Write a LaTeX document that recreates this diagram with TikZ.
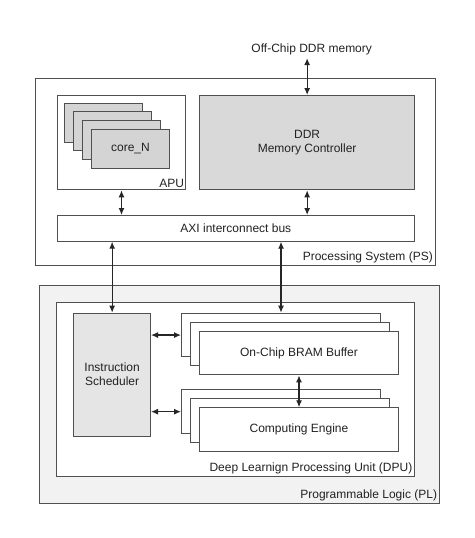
\documentclass[tikz,border=0pt]{standalone}
\usepackage{fontspec}
\setmainfont{Liberation Sans}
\usepackage{tikz}
\usepackage{xcolor}
\usetikzlibrary{arrows.meta}

\definecolor{edge}{HTML}{505050}
\definecolor{ink}{HTML}{222222}

\begin{document}
\begin{tikzpicture}[x=1pt, y=-1pt,
      every node/.style = {font=\fontsize{12}{14}\selectfont, text=ink},
      box/.style = {draw=edge, line width=1pt, rectangle, inner sep=0pt, anchor=north west},
      tag/.style = {inner sep=3pt, anchor=south east},
      link/.style = {{Latex[length=7pt,width=6pt]}-{Latex[length=7pt,width=6pt]}, line width=1.2pt, draw=black!85}]
      \useasboundingbox (0,0) rectangle (474,538);
      % processing system
      \node[box, minimum width=400pt, minimum height=187pt] (ps) at (35,78) {};
      \node[tag] (pslabel) at (ps.south east) {Processing System (PS)};
      \node[box, minimum width=128.6pt, minimum height=94.3pt] (apu) at (56.7,95) {};
      \node[tag, inner sep=2pt] (apulabel) at (apu.south east) {APU};
      \foreach \i in {0,1,2}
            \node[box, fill=black!17, minimum width=77.4pt, minimum height=39pt] (core\i) at (64.3+9*\i,102.7+8.7*\i) {};
      \node[box, fill=black!17, minimum width=77.4pt, minimum height=39pt] (coreN) at (91.3,128.8) {core\_N};
      \node[box, fill=black!15, minimum width=214.7pt, minimum height=94.3pt, align=center] (ddr) at (199.3,95) {DDR\\Memory Controller};
      \node (offchip) at (311.7,49) {Off-Chip DDR memory};
      \node[box, fill=white, minimum width=357.3pt, minimum height=25.7pt] (axi) at (56.7,215) {AXI interconnect bus};
      % programmable logic
      \node[box, fill=black!5, minimum width=400pt, minimum height=217.7pt] (pl) at (39.3,285) {};
      \node[tag] (pllabel) at (pl.south east) {Programmable Logic (PL)};
      \node[box, fill=white, minimum width=358pt, minimum height=173.7pt] (dpu) at (56,302.3) {};
      \node[tag, inner sep=2.5pt] (dpulabel) at (dpu.south east) {Deep Learnign Processing Unit (DPU)};
      \node[box, fill=black!10, minimum width=76.7pt, minimum height=123pt, align=center] (sched) at (73.3,312.7) {Instruction\\Scheduler};
      \foreach \i in {0,1}
            \node[box, fill=white, minimum width=199pt, minimum height=43.7pt] (bram\i) at (181+9*\i,312.7+9*\i) {};
      \node[box, fill=white, minimum width=199pt, minimum height=43.7pt] (bram2) at (199,330.7) {On-Chip BRAM Buffer};
      \foreach \i in {0,1}
            \node[box, fill=white, minimum width=199pt, minimum height=43.7pt] (ce\i) at (181+9*\i,389.3+9*\i) {};
      \node[box, fill=white, minimum width=199pt, minimum height=43.7pt] (ce2) at (199,407.3) {Computing Engine};
      % connectors
      \draw[link] (ddr.north) -- (ddr.north |- offchip.south);
      \draw[link] (apu.south) -- (axi.north -| apu.south);
      \draw[link] (ddr.south) -- (axi.north -| ddr.south);
      \draw[link] (axi.south -| sched.north) -- (sched.north);
      \draw[link] (axi.south -| bram0.north) -- (bram0.north);
      \draw[link] (sched.east |- bram0.west) -- (bram0.west);
      \draw[link] (sched.east |- ce0.west) -- (ce0.west);
      \draw[link] (bram2.south) -- (ce2.north);
\end{tikzpicture}
\end{document}
